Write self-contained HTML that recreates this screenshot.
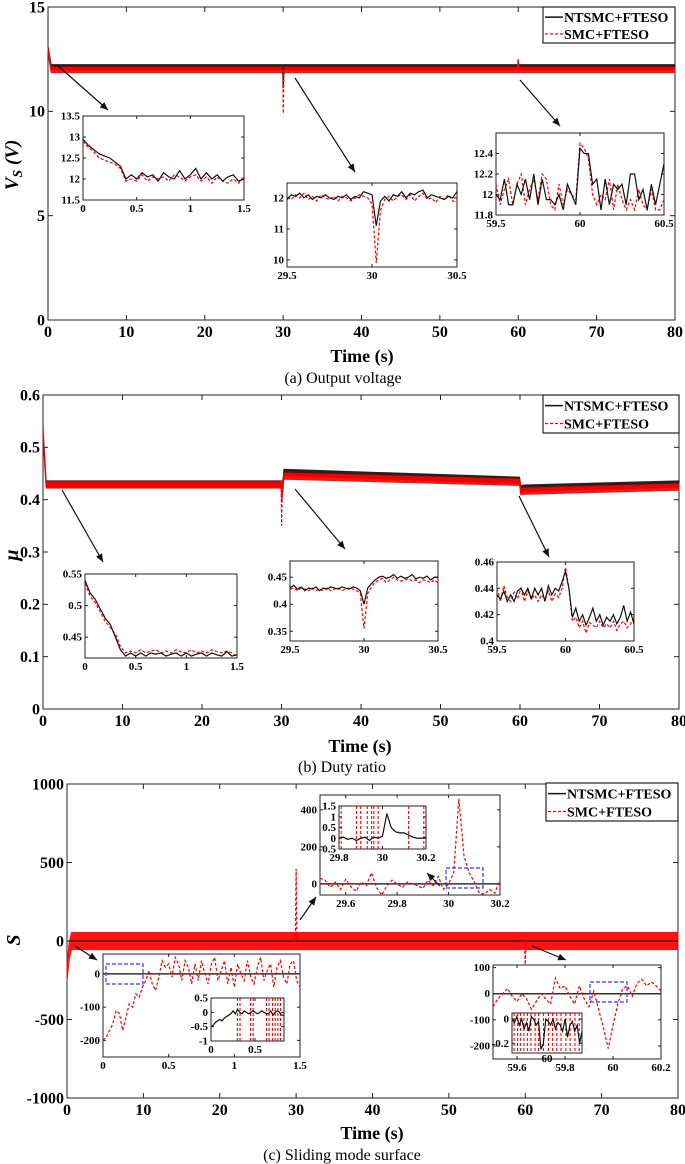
<!DOCTYPE html>
<html><head><meta charset="utf-8"><style>
body{margin:0;background:#fff;}
svg{display:block;font-family:"Liberation Serif",serif;}
.tk{font-weight:bold;font-size:16px;}
.itk{font-weight:bold;font-size:11px;}
</style></head><body>
<svg id="fig" width="685" height="1164" viewBox="0 0 685 1164" xmlns="http://www.w3.org/2000/svg">
<g id="root"></g>
<text x="362" y="362" text-anchor="middle" font-weight="bold" font-size="18">Time (s)</text>
<text x="343" y="383" text-anchor="middle" font-size="16">(a) Output voltage</text>
<text x="360" y="752" text-anchor="middle" font-weight="bold" font-size="18">Time (s)</text>
<text x="342" y="772" text-anchor="middle" font-size="16">(b) Duty ratio</text>
<text x="372" y="1139" text-anchor="middle" font-weight="bold" font-size="18">Time (s)</text>
<text x="342" y="1160" text-anchor="middle" font-size="16">(c) Sliding mode surface</text>
<text transform="translate(18,165) rotate(-90)" text-anchor="middle" font-weight="bold" font-style="italic" font-size="19">V<tspan font-size="14" dy="4">S</tspan><tspan dy="-4"> (V)</tspan></text>
<text transform="translate(18,555) rotate(-90)" text-anchor="middle" font-weight="bold" font-style="italic" font-size="20">μ</text>
<text transform="translate(20,940) rotate(-90)" text-anchor="middle" font-weight="bold" font-style="italic" font-size="20">S</text>
</svg>
<script>
// ---------- data ----------
const mainTicksX=[0,10,20,30,40,50,60,70,80];
const aTicksY=[0,5,10,15];
const bTicksY=[0,0.1,0.2,0.3,0.4,0.5,0.6];
const cTicksY=[-1000,-500,0,500,1000];
// main-band knots (time, centre value)
const aBlackT=[0,0.1,0.4,80], aBlackV=[13,12.8,12.12,12.12];
const aRedT=[0,0.1,0.4,80], aRedV=[12.95,12.7,11.98,11.98];
const aBlackSpikeT=[29.95,30.02,30.1], aBlackSpikeV=[12.1,11.1,12.1];
const aRedSpikeT=[29.95,30.02,30.1], aRedSpikeV=[12.0,9.9,12.0];
const a60SpikeT=[59.9,59.98,60.1], a60SpikeV=[12.1,12.5,12.1];
const bBlackT=[0,0.05,0.4,29.95,30.05,30.3,59.95,60.1,60.4,80], bBlackV=[0.535,0.52,0.43,0.43,0.41,0.452,0.437,0.42,0.422,0.43];
const bRedT=[0,0.05,0.4,29.95,30.05,30.3,59.95,60.1,60.4,80], bRedV=[0.53,0.51,0.428,0.428,0.40,0.445,0.433,0.415,0.416,0.424];
const bRedSpikeT=[29.95,30.02,30.1], bRedSpikeV=[0.43,0.35,0.44];
const cRedT=[0,0.3,0.6,80], cRedV=[-200,-60,0,0];
const cSpikeT=[29.9,30.0,30.1,59.9,60.0,60.1], cSpikeV=[0,460,0,0,-150,0];
// inset data
const a1Black=[12.95,12.8,12.7,12.6,12.55,12.5,12.4,12.3,12.0,12.1,12.0,12.15,12.05,12.1,11.95,12.15,12.05,12.0,12.2,12.0,12.1,12.25,12.0,12.15,12.0,12.1,11.95,12.05,12.1,11.95,12.0];
const a1Red=[12.9,12.75,12.65,12.5,12.45,12.4,12.35,12.25,11.95,12.0,11.95,12.1,11.95,12.05,12.0,12.05,11.95,12.1,12.05,11.95,12.05,12.1,11.95,12.05,11.9,12.05,11.95,11.9,12.0,11.9,12.05];
const a2Black=[11.95,12.1,12.05,12.15,12.0,12.1,11.95,12.05,12.0,12.1,12.0,11.95,12.05,12.0,12.1,11.95,12.05,12.0,12.2,12.15,12.1,11.1,11.9,12.05,11.9,12.1,12.05,12.2,12.0,12.15,12.1,12.2,12.25,12.0,12.1,12.05,12.0,11.95,12.05,12.0,12.2];
const a2Red=[12.0,11.95,12.1,12.0,12.15,11.95,12.05,11.9,12.1,12.0,11.95,12.05,11.9,12.05,12.0,11.9,12.0,12.1,12.05,12.0,11.8,9.9,11.6,11.95,12.05,11.9,12.05,12.1,11.95,12.1,11.9,12.05,12.15,11.95,12.0,11.85,12.05,11.95,12.1,11.9,11.85];
const a3Black=[12.0,11.95,12.15,11.9,11.9,12.1,12.0,12.15,11.95,12.2,11.9,12.15,11.95,11.95,11.9,12.0,11.85,12.1,12.0,11.9,12.45,12.4,12.4,12.1,12.15,11.85,12.15,11.9,12.1,12.05,12.1,11.9,12.2,12.2,11.95,12.05,11.85,12.1,11.9,12.1,12.3];
const a3Red=[12.1,11.9,12.05,12.15,11.9,12.1,12.2,11.9,12.05,12.15,11.95,12.2,12.15,11.9,11.85,12.1,11.9,12.05,12.0,11.95,12.5,12.45,12.35,12.0,11.9,12.0,11.95,12.15,11.85,12.1,11.95,11.85,11.95,11.85,12.05,11.9,11.85,12.05,11.85,11.85,11.95];
const b1Black=[.54,.52,.51,.495,.48,.47,.45,.43,.42,.425,.42,.425,.42,.425,.423,.425,.42,.423,.425,.42,.425,.42,.423,.425,.42,.425,.422,.42,.427,.42,.422];
const b1Red=[.535,.515,.505,.49,.475,.465,.455,.435,.425,.428,.425,.43,.425,.428,.43,.425,.428,.425,.43,.427,.425,.43,.425,.428,.425,.43,.427,.425,.428,.425,.42];
const b2Black=[.43,.435,.428,.432,.425,.43,.428,.432,.425,.43,.428,.432,.43,.428,.432,.43,.428,.432,.43,.425,.40,.43,.438,.445,.45,.452,.448,.45,.455,.448,.452,.448,.45,.455,.447,.45,.448,.452,.445,.45,.45];
const b2Red=[.428,.43,.425,.43,.428,.425,.43,.425,.428,.425,.43,.425,.428,.43,.425,.428,.43,.428,.425,.42,.355,.42,.432,.44,.445,.448,.44,.445,.45,.445,.443,.445,.447,.443,.445,.44,.445,.443,.44,.445,.44];
const b3Black=[.435,.432,.438,.43,.435,.43,.438,.44,.435,.44,.432,.44,.435,.44,.43,.442,.435,.44,.438,.445,.453,.44,.418,.425,.415,.42,.412,.418,.425,.415,.42,.412,.418,.415,.42,.413,.418,.427,.415,.422,.413];
const b3Red=[.44,.43,.442,.433,.43,.437,.432,.44,.43,.438,.432,.435,.43,.435,.432,.438,.43,.436,.433,.44,.456,.44,.415,.418,.41,.415,.406,.414,.412,.41,.415,.41,.413,.41,.415,.408,.413,.415,.41,.413,.418];
const c1Red=[30,20,-20,10,-30,25,-15,-40,10,-10,60,-20,-60,-10,20,0,-20,10,0,-10,-25,20,-10,40,-30,0,60,460,150,60,10,-50,-55,-30,-50,20];
const c1nBlack=[0,0.05,-0.05,0,-0.1,0,0.05,-0.1,0.05,0,0.1,1.15,0.5,0.3,0.25,0.25,0.15,0.05,0,0,0.05];
const c1nRedX=[29.81,29.88,29.9,29.93,29.95,29.96,29.98,30.12,30.19];
const c2Red=[-200,-190,-170,-150,-110,-120,-170,-130,-90,-100,-60,-70,-40,-20,10,-30,-50,-10,40,20,30,-10,50,30,-20,40,20,-30,30,-20,40,0,-30,30,50,-20,10,40,-30,20,-40,30,0,-20,40,-10,-30,20,50,-20,10,30,-40,20,40,-10,-30,30,40,-20,-40];
const c2nBlack=[-0.5,-0.45,-0.35,-0.3,-0.25,-0.3,-0.2,-0.15,-0.1,-0.05,0.05,-0.05,0.1,0,-0.05,0.05,0,-0.05,0,0.05,0,-0.05,0,0.05,0,-0.05,-0.05,0.05,-0.1,0,0.05,0,-0.1,-0.1];
const c2nRedX=[0.3,0.33,0.45,0.48,0.63,0.66,0.7,0.73,0.76,0.79];
const c3Red=[-50,-20,0,20,-10,-30,0,-20,-60,-30,0,-20,-40,60,20,30,-10,-40,30,-20,-50,10,-60,-130,-210,-120,-40,20,30,-10,40,55,30,45,30,10];
const c3nBlack=[0,-0.03,0.02,-0.05,0,-0.08,-0.03,-0.1,0.02,0,-0.05,-0.02,-0.25,-0.2,0,-0.02,-0.05,0,-0.08,-0.03,-0.05,-0.1,0,-0.15,-0.05,-0.02,-0.1,-0.05,-0.2,-0.1];
const c3nRedX=[0.03,0.08,0.12,0.17,0.22,0.27,0.33,0.38,0.45,0.52,0.58,0.64,0.7,0.77,0.83,0.9,0.96];

// ---------- drawing ----------
const NS='http://www.w3.org/2000/svg';
const root=document.getElementById('root');
function el(tag,attrs,parent){const e=document.createElementNS(NS,tag);for(const k in attrs)e.setAttribute(k,attrs[k]);(parent||root).appendChild(e);return e;}
function scale(d0,d1,p0,p1){return v=>p0+(v-d0)/(d1-d0)*(p1-p0);}
function fmt(v){return String(Math.round(v*1000)/1000);}

function frame(px0,px1,py0,py1,xt,yt,xs,ys,cls,tl,lblName,fs){
  const r=el('rect',{x:px0,y:py1,width:px1-px0,height:py0-py1,fill:'#fff',stroke:'#222','stroke-width':1});
  
  
  xt.forEach(v=>{const x=xs(v);
    el('line',{x1:x,x2:x,y1:py0,y2:py0-tl,stroke:'#222'});el('line',{x1:x,x2:x,y1:py1,y2:py1+tl,stroke:'#222'});
    const t=el('text',{x:x,y:py0+fs+2,'text-anchor':'middle',class:cls});t.textContent=fmt(v);
    
    });
  yt.forEach(v=>{const y=ys(v);
    el('line',{x1:px0,x2:px0+tl,y1:y,y2:y,stroke:'#222'});el('line',{x1:px1,x2:px1-tl,y1:y,y2:y,stroke:'#222'});
    const t=el('text',{x:px0-3,y:y+fs*0.35,'text-anchor':'end',class:cls});t.textContent=fmt(v);
    
    });
}
function band(T,V,hw,xs,ys,color,name){
  let pts=[];T.forEach((t,i)=>pts.push(xs(t)+','+ys(V[i]+hw)));
  for(let i=T.length-1;i>=0;i--)pts.push(xs(T[i])+','+ys(V[i]-hw));
  const p=el('polygon',{points:pts.join(' '),fill:color,stroke:color,'stroke-width':1,opacity:0.92});
  
  
}
function line(X,V,xs,ys,color,dash,name,w){
  const p=el('polyline',{points:X.map((x,i)=>xs(x)+','+ys(V[i])).join(' '),fill:'none',stroke:color,'stroke-width':w||1.2,'stroke-dasharray':dash?'3,2':'none'});
  
  
}
function series(x0,x1,V){return V.map((v,i)=>x0+(x1-x0)*i/(V.length-1));}
function vlines(X,xs,y0,y1,name){X.forEach(x=>{const l=el('line',{x1:xs(x),x2:xs(x),y1:y0,y2:y1,stroke:'red','stroke-width':1.1,'stroke-dasharray':'3,2'});
  
  });}
function arrow(x1,y1,x2,y2){const g=el('g',{});
  
  
  el('line',{x1,y1,x2,y2,stroke:'#111','stroke-width':1.2},g);
  const a=Math.atan2(y2-y1,x2-x1),L=8,W=3.5;
  const p=[[x2,y2],[x2-L*Math.cos(a)+W*Math.sin(a),y2-L*Math.sin(a)-W*Math.cos(a)],[x2-L*Math.cos(a)-W*Math.sin(a),y2-L*Math.sin(a)+W*Math.cos(a)]];
  el('polygon',{points:p.map(q=>q.join(',')).join(' '),fill:'#111'},g);}
function inset(px0,px1,py0,py1,d,ticksX,ticksY,name){
  const xs=scale(d[0],d[1],px0,px1),ys=scale(d[2],d[3],py0,py1);
  frame(px0,px1,py0,py1,ticksX,ticksY,xs,ys,'itk',3,name,10);
  return [xs,ys];
}
function legend(x,y,w,h,name){const g=el('g',{});
  
  
  el('rect',{x,y,width:w,height:h,fill:'#fff',stroke:'#222','stroke-width':1.2},g);
  el('line',{x1:x+2,x2:x+20,y1:y+h*0.28,y2:y+h*0.28,stroke:'#111','stroke-width':1.5},g);
  el('line',{x1:x+2,x2:x+20,y1:y+h*0.75,y2:y+h*0.75,stroke:'red','stroke-width':1.2,'stroke-dasharray':'3,2'},g);
  const t1=el('text',{x:x+21,y:y+h*0.28+5,'font-weight':'bold','font-size':'14'},g);t1.textContent='NTSMC+FTESO';
  const t2=el('text',{x:x+21,y:y+h*0.75+5,'font-weight':'bold','font-size':'14'},g);t2.textContent='SMC+FTESO';}

// ===== Panel A =====
{const xs=scale(0,80,48,675),ys=scale(0,15,320,7);
frame(48,675,320,7,mainTicksX,aTicksY,xs,ys,'tk',5,'panel-a',15);
band(aBlackT,aBlackV,0.12,xs,ys,'#111','series-a-ntsmc');
band(aRedT,aRedV,0.13,xs,ys,'#f00','series-a-smc');
line(aBlackSpikeT,aBlackSpikeV,xs,ys,'#111',false,'spike-a-ntsmc');
line(aRedSpikeT,aRedSpikeV,xs,ys,'red',true,'spike-a-smc');
line(a60SpikeT,a60SpikeV,xs,ys,'red',false,'spike-a-60');
legend(543,7,132,36,'legend-a');
arrow(57,65,108,110);arrow(295,78,355,172);arrow(520,80,560,126);
let [ix,iy]=inset(83,244,200,116,[0,1.5,11.5,13.5],[0,0.5,1,1.5],[11.5,12,12.5,13,13.5],'inset-a1');
line(series(0,1.5,a1Red),a1Red,ix,iy,'red',true,'inset-a1-smc');line(series(0,1.5,a1Black),a1Black,ix,iy,'#111',false,'inset-a1-ntsmc');
[ix,iy]=inset(287,457,267,183,[29.5,30.5,9.77,12.48],[29.5,30,30.5],[10,11,12],'inset-a2');
line(series(29.5,30.5,a2Red),a2Red,ix,iy,'red',true,'inset-a2-smc');line(series(29.5,30.5,a2Black),a2Black,ix,iy,'#111',false,'inset-a2-ntsmc');
[ix,iy]=inset(496,664,215,133,[59.5,60.5,11.8,12.6],[59.5,60,60.5],[11.8,12,12.2,12.4],'inset-a3');
line(series(59.5,60.5,a3Red),a3Red,ix,iy,'red',true,'inset-a3-smc');line(series(59.5,60.5,a3Black),a3Black,ix,iy,'#111',false,'inset-a3-ntsmc');}

// ===== Panel B =====
{const xs=scale(0,80,43,679),ys=scale(0,0.6,709,395);
frame(43,679,709,395,mainTicksX,bTicksY,xs,ys,'tk',5,'panel-b',15);
band(bBlackT,bBlackV,0.006,xs,ys,'#111','series-b-ntsmc');
band(bRedT,bRedV,0.006,xs,ys,'#f00','series-b-smc');
line(bRedSpikeT,bRedSpikeV,xs,ys,'red',true,'spike-b-smc');
legend(543,395,136,38,'legend-b');
arrow(62,490,103,562);arrow(295,489,345,549);arrow(519,496,549,557);
let [ix,iy]=inset(85,237,658,574,[0,1.5,0.417,0.55],[0,0.5,1,1.5],[0.45,0.5,0.55],'inset-b1');
line(series(0,1.5,b1Red),b1Red,ix,iy,'red',true,'inset-b1-smc');line(series(0,1.5,b1Black),b1Black,ix,iy,'#111',false,'inset-b1-ntsmc');
[ix,iy]=inset(290,438,641,561,[29.5,30.5,0.332,0.48],[29.5,30,30.5],[0.35,0.4,0.45],'inset-b2');
line(series(29.5,30.5,b2Red),b2Red,ix,iy,'red',true,'inset-b2-smc');line(series(29.5,30.5,b2Black),b2Black,ix,iy,'#111',false,'inset-b2-ntsmc');
[ix,iy]=inset(497,634,641,562,[59.5,60.5,0.4,0.46],[59.5,60,60.5],[0.4,0.42,0.44,0.46],'inset-b3');
line(series(59.5,60.5,b3Red),b3Red,ix,iy,'red',true,'inset-b3-smc');line(series(59.5,60.5,b3Black),b3Black,ix,iy,'#111',false,'inset-b3-ntsmc');}

// ===== Panel C =====
{const xs=scale(0,80,67,678),ys=scale(-1000,1000,1098,784);
frame(67,678,1098,784,mainTicksX,cTicksY,xs,ys,'tk',5,'panel-c',15);
band(cRedT,cRedV,55,xs,ys,'#f00','series-c-smc');
line([0,80],[0,0],xs,ys,'#111',false,'series-c-ntsmc',1);
line(cSpikeT.slice(0,3),cSpikeV.slice(0,3),xs,ys,'red',true,'spike-c-30');
line(cSpikeT.slice(3),cSpikeV.slice(3),xs,ys,'red',true,'spike-c-60');
legend(546,783,132,38,'legend-c');
arrow(75,946,97,960);arrow(300,920,316,897);arrow(143,990,190,1012);arrow(532,946,566,960);arrow(598,1005,584,1036);
let [ix,iy]=inset(320,500,895,795,[29.5,30.2,-60,480],[29.6,29.8,30,30.2],[0,200,400],'inset-c1');
line([29.5,30.2],[0,0],ix,iy,'#333',false,'inset-c1-ntsmc',1.5);
line(series(29.5,30.2,c1Red),c1Red,ix,iy,'red',true,'inset-c1-smc');
el('rect',{x:446,y:868,width:37,height:20,fill:'none',stroke:'#33f','stroke-dasharray':'4,2','stroke-width':1.2});
arrow(440,886,427,873);
let [nx,ny]=inset(339,426,849,806,[29.8,30.2,-0.5,1.5],[29.8,30,30.2],[-0.5,0,0.5,1,1.5],'inset-c1-nested');
vlines(c1nRedX,nx,806,849,'inset-c1-nested-smc');
line(series(29.8,30.2,c1nBlack),c1nBlack,nx,ny,'#111',false,'inset-c1-nested-ntsmc');
[ix,iy]=inset(103,300,1057,954,[0,1.5,-250,60],[0,0.5,1,1.5],[-200,-100,0],'inset-c2');
line([0,1.5],[0,0],ix,iy,'#333',false,'inset-c2-ntsmc',1.5);
line(series(0,1.5,c2Red),c2Red,ix,iy,'red',true,'inset-c2-smc');
el('rect',{x:106,y:964,width:37,height:20,fill:'none',stroke:'#33f','stroke-dasharray':'4,2','stroke-width':1.2});
[nx,ny]=inset(211,284,1041,998,[0,0.83,-1,0.5],[0,0.5],[-1,-0.5,0,0.5],'inset-c2-nested');
vlines(c2nRedX,nx,998,1041,'inset-c2-nested-smc');
line(series(0,0.83,c2nBlack),c2nBlack,nx,ny,'#111',false,'inset-c2-nested-ntsmc');
[ix,iy]=inset(493,661,1059,965,[59.5,60.2,-250,110],[59.6,59.8,60,60.2],[-200,-100,0,100],'inset-c3');
line([59.5,60.2],[0,0],ix,iy,'#333',false,'inset-c3-ntsmc',1.5);
line(series(59.5,60.2,c3Red),c3Red,ix,iy,'red',true,'inset-c3-smc');
el('rect',{x:590,y:982,width:37,height:20,fill:'none',stroke:'#33f','stroke-dasharray':'4,2','stroke-width':1.2});
[nx,ny]=inset(512,582,1053,1013,[0,1,-0.28,0.05],[],[-0.2,0],'inset-c3-nested');
vlines(c3nRedX,nx,1013,1053,'inset-c3-nested-smc');
line(series(0,1,c3nBlack),c3nBlack,nx,ny,'#111',false,'inset-c3-nested-ntsmc');
const t=el('text',{x:547,y:1062,'text-anchor':'middle',class:'itk'});t.textContent='60';

}
</script>
</body></html>
